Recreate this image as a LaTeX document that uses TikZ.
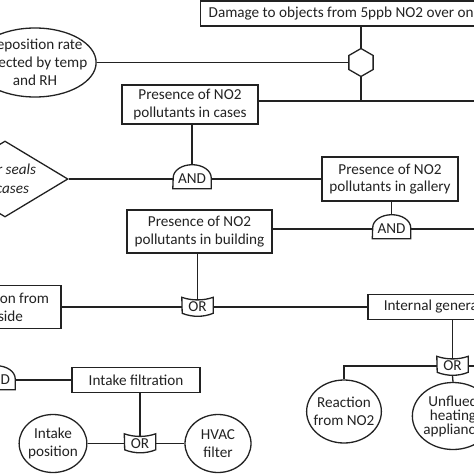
\documentclass[tikz,border=0pt]{standalone}
\usepackage{fontspec}
\setmainfont{Carlito}
\usepackage{xcolor}
\definecolor{ink}{HTML}{222222}
\usetikzlibrary{positioning,shapes.geometric}
\tikzstyle{treeobject}=[draw=ink, line width=1.3pt, text=ink, align=center, inner sep=0pt,
        font=\fontsize{15.2}{17.8}\selectfont]
\tikzstyle{eventbox}=[treeobject, rectangle]
\tikzstyle{basicevent}=[treeobject, ellipse]
\tikzstyle{undeveloped}=[treeobject, diamond, aspect=1.7, font=\fontsize{15.2}{19}\selectfont\itshape]
\tikzstyle{conditionhex}=[treeobject, regular polygon, regular polygon sides=6, shape border rotate=30,
        minimum size=28pt]
\tikzstyle{gatetext}=[text=ink, inner sep=0pt, font=\fontsize{15.2}{17.8}\selectfont]
\tikzstyle{treeline}=[draw=ink, line width=1.3pt]
\newcommand{\andgate}[2]{
\node (#1) [gatetext, minimum width=38pt, minimum height=19pt] at (#2) {AND};
\draw[treeline] (#1.south west) -- (#1.south east) -- ++(0pt,11pt)
    arc[start angle=0, end angle=180, x radius=19pt, y radius=13pt] -- cycle;
\path (#1.south) ++(0pt,24pt) coordinate (#1in);}
\newcommand{\orgate}[2]{
\node (#1) [gatetext, minimum width=31pt, minimum height=19pt] at (#2) {OR};
\draw[treeline] (#1.north west) .. controls +(10pt,-3.5pt) and +(-10pt,-3.5pt) .. (#1.north east)
    -- ++(0pt,-16pt) .. controls +(-10pt,-4pt) and +(10pt,-4pt) .. ++(-31pt,0pt) -- cycle;
\path (#1.north) ++(0pt,-2.6pt) coordinate (#1in);}

\begin{document}
\begin{tikzpicture}[x=1pt, y=-1pt]
\useasboundingbox (0,0) rectangle (474,474);
\clip (0,0) rectangle (474,474);

\node (Damage) [eventbox, anchor=west, minimum height=25pt, inner xsep=8pt] at (200,13.5)
    {Damage to objects from 5ppb NO2 over one year};
\node (Inhibit) [conditionhex] at (361,62.5) {};
\node (Deposition) [basicevent, inner xsep=-9pt, minimum width=120pt, minimum height=69pt] at (35,62.5)
    {Deposition rate\\affected by temp\\and RH};
\node (Cases) [eventbox, minimum width=136pt, minimum height=39pt] at (190,104.5)
    {Presence of NO2\\pollutants in cases};
\andgate{AndCases}{192,179}
\node (Seals) [undeveloped, minimum width=126pt, minimum height=76pt] at (5,179) {Poor seals\\in cases};
\node (Gallery) [eventbox, minimum width=136pt, minimum height=44pt] at (390,179)
    {Presence of NO2\\pollutants in gallery};
\andgate{AndGallery}{391.5,229}
\node (Building) [eventbox, minimum width=145pt, minimum height=43pt] at (199.5,231.5)
    {Presence of NO2\\pollutants in building};
\orgate{OrBuilding}{197.5,307}
\node (Infiltration) [eventbox, minimum width=122pt, minimum height=43pt] at (0,307)
    {Infiltration from\\outside};
\node (Internal) [eventbox, minimum width=150pt, minimum height=25pt] at (443,307) {Internal generation};
\orgate{OrInternal}{452.5,366}
\node (Reaction) [basicevent, inner xsep=-4pt, minimum width=74pt, minimum height=63pt] at (344,411.5)
    {Reaction\\from NO2};
\node (Unflued) [basicevent, inner xsep=-1pt, minimum width=80pt, minimum height=67pt,
    font=\fontsize{15.2}{14}\selectfont] at (453,416) {Unflued\\heating\\appliance};
\andgate{AndFiltration}{-4,380}
\node (Filtration) [eventbox, minimum width=128pt, minimum height=25pt] at (136,380) {Intake filtration};
\orgate{OrFiltration}{140,443.5}
\node (Position) [basicevent, inner xsep=-1pt, minimum width=66pt, minimum height=58pt] at (53,443.5)
    {Intake\\position};
\node (Hvac) [basicevent, minimum width=66pt, minimum height=58pt] at (218,443.5) {HVAC\\filter};

\coordinate (CasesBus) at (520,101);
\coordinate (GalleryRight) at (520,229);
\coordinate (InternalRight) at (520,366);

\draw[treeline] (Inhibit.north) -- (Inhibit.north |- Damage.south);
\draw[treeline] (Deposition.east) -- (Inhibit.west);
\draw[treeline] (Cases.east |- CasesBus) -- (CasesBus);
\draw[treeline] (Inhibit.south) -- (Inhibit.south |- CasesBus);
\draw[treeline] (AndCasesin) -- (AndCasesin |- Cases.south);
\draw[treeline] (Seals.east) -- (AndCases.west);
\draw[treeline] (AndCases.east) -- (Gallery.west);
\draw[treeline] (AndGalleryin) -- (AndGalleryin |- Gallery.south);
\draw[treeline] (Building.east |- AndGallery.west) -- (AndGallery.west);
\draw[treeline] (AndGallery.east) -- (GalleryRight);
\draw[treeline] (OrBuildingin) -- (OrBuildingin |- Building.south);
\draw[treeline] (Infiltration.east) -- (OrBuilding.west);
\draw[treeline] (OrBuilding.east) -- (Internal.west);
\draw[treeline] (OrInternalin) -- (OrInternalin |- Internal.south);
\draw[treeline] (OrInternal.west) -| (Reaction.north);
\draw[treeline] (OrInternal.south) -- (Unflued.north);
\draw[treeline] (OrInternal.east) -- (InternalRight);
\draw[treeline] (AndFiltration.east) -- (Filtration.west);
\draw[treeline] (OrFiltrationin) -- (OrFiltrationin |- Filtration.south);
\draw[treeline] (Position.east) -- (OrFiltration.west);
\draw[treeline] (OrFiltration.east) -- (Hvac.west);

\end{tikzpicture}
\end{document}
